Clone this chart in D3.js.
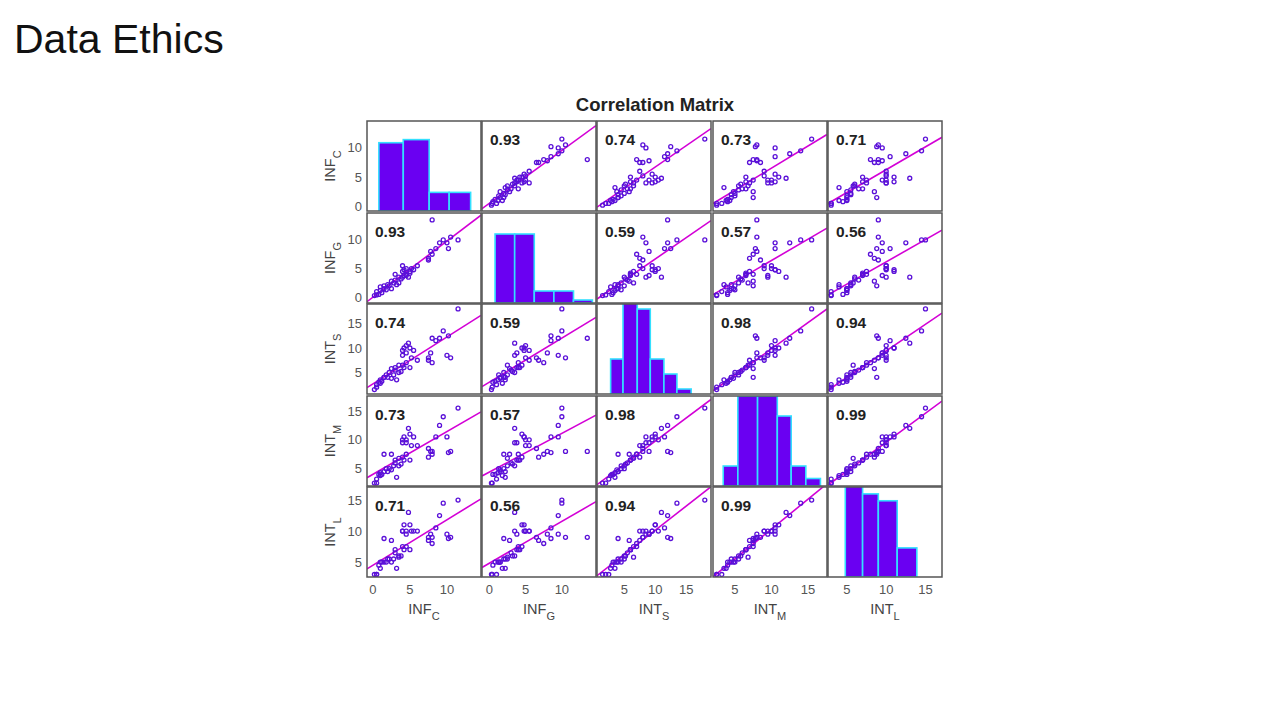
<!DOCTYPE html>
<html><head><meta charset="utf-8">
<script src="https://cdn.jsdelivr.net/npm/d3@7"></script>
<style>body{margin:0;background:#fff}text{font-family:"Liberation Sans",Arial,sans-serif}</style>
</head><body><svg id="c" width="1280" height="720"></svg>
<script>
const varNames = [["INF","C"],["INF","G"],["INT","S"],["INT","M"],["INT","L"]];
const domains = [[-0.8,14.6],[-1.0,14.7],[0.6,19.0],[2.0,17.6],[2.6,17.1]];
const ticks = [[0,5,10],[0,5,10],[5,10,15],[5,10,15],[5,10,15]];
const corrLabels = [
 [null,"0.93","0.74","0.73","0.71"],
 ["0.93",null,"0.59","0.57","0.56"],
 ["0.74","0.59",null,"0.98","0.94"],
 ["0.73","0.57","0.98",null,"0.99"],
 ["0.71","0.56","0.94","0.99",null]];
// observations: INF_C, INF_G, INT_S, INT_M, INT_L
const obs = [
[0.2,0.3,1.5,2.5,3.0],[0.5,0.4,2.0,2.5,3.0],[0.5,1.0,2.5,3.2,3.0],[0.8,0.5,3.0,4.0,4.5],
[1.0,1.2,3.5,4.3,5.0],[1.2,0.8,3.2,4.0,5.0],[1.5,1.5,4.0,4.5,5.0],[1.0,1.8,2.8,3.8,4.0],
[1.8,1.3,4.5,5.0,5.0],[2.0,2.2,4.0,4.5,5.5],[2.2,2.0,5.0,5.0,5.5],[2.5,1.5,3.8,4.8,5.0],
[2.8,2.5,4.5,5.5,5.5],[3.0,3.0,5.5,6.0,6.5],[3.2,2.2,3.5,3.5,4.0],[3.5,3.5,5.0,5.5,6.0],
[3.0,4.0,6.0,6.5,7.0],[3.8,3.2,5.2,5.8,6.0],[4.0,4.5,6.5,7.0,7.5],[4.2,3.8,6.0,6.5,7.0],
[4.5,4.0,7.0,7.5,7.5],[4.0,5.5,9.5,10.0,10.0],[4.2,4.8,10.0,10.5,11.0],[4.5,5.0,10.5,10.0,10.0],
[4.0,3.5,8.5,9.5,10.0],[4.5,3.8,9.0,9.5,9.5],[5.0,4.5,10.0,11.0,11.0],[4.8,3.5,11.0,12.0,13.0],
[5.2,5.0,8.0,9.0,10.0],[5.5,4.8,9.5,10.5,10.0],[6.0,5.5,7.5,9.0,10.0],[5.0,4.2,6.0,6.5,7.0],
[7.5,6.5,8.0,8.5,9.0],[7.5,6.8,7.5,7.0,8.5],[7.8,8.0,9.0,8.0,9.5],[8.0,7.5,7.0,7.5,8.0],
[8.5,8.5,11.5,10.5,10.5],[9.0,9.5,12.0,12.5,12.5],[9.5,10.0,13.5,14.0,14.5],[10.0,9.5,8.5,10.5,9.5],
[10.5,10.5,8.0,8.0,9.0],[10.2,8.5,12.5,7.8,8.8],[11.5,10.0,18.0,15.5,15.0],[8.0,13.5,12.0,8.0,9.0],
[2.5,2.8,5.8,7.5,8.5],[1.5,2.0,4.0,7.5,8.8],[3.5,2.5,6.5,6.8,5.8]];
// histograms: bin edges and counts
const histEdges = [[0.8,4.1,7.6,10.3,13.2],[0.8,3.5,6.2,8.9,11.6,14.2],[2.8,4.8,7.1,9.2,11.4,13.5,15.8],[3.4,5.4,8.1,10.8,12.7,14.7,16.7],[4.8,7.0,9.0,11.4,13.9]];
const histCounts = [[11,11.5,3,3],[11.5,11.5,2,2,0.5],[7,19,17,7,4,1],[4,18,18,14,4,1.5],[18,15.7,14.4,5.5]];
const histMax = [14.5,15,18,18,17];

const svg = d3.select("#c");
svg.append("text").attr("x",14).attr("y",53).attr("font-size",41).attr("fill","#111").text("Data Ethics");
svg.append("text").attr("x",655).attr("y",111).attr("text-anchor","middle").attr("font-size",18.5).attr("font-weight","bold").attr("fill","#222").text("Correlation Matrix");

const colX = [367,482,597,713,828], W = 114;
const rowY = [121,213,304,396,487], H = 90;
const xs = domains.map((d,i)=>d3.scaleLinear().domain(d).range([colX[i],colX[i]+W]));
const ys = domains.map((d,i)=>d3.scaleLinear().domain(d).range([rowY[i]+H,rowY[i]]));
const defs = svg.append("defs");

function label(g, v){
  g.append("tspan").text(varNames[v][0]);
  g.append("tspan").attr("baseline-shift","sub").attr("font-size",11).text(varNames[v][1]);
}

for(let r=0;r<5;r++) for(let c=0;c<5;c++){
  const id="clip"+r+"_"+c;
  defs.append("clipPath").attr("id",id).append("rect").attr("x",colX[c]).attr("y",rowY[r]).attr("width",W).attr("height",H);
  const g = svg.append("g");
  const inner = g.append("g").attr("clip-path",`url(#${id})`);
  if(r===c){
    const hy = d3.scaleLinear().domain([0,histMax[r]]).range([rowY[r]+H,rowY[r]]);
    const e = histEdges[r];
    inner.selectAll("rect.b").data(histCounts[r]).join("rect")
      .attr("x",(d,i)=>xs[c](e[i])).attr("width",(d,i)=>xs[c](e[i+1])-xs[c](e[i]))
      .attr("y",d=>hy(d)).attr("height",d=>hy(0)-hy(d))
      .attr("fill","#6a00f2").attr("stroke","#33e0ff").attr("stroke-width",1.6);
  } else {
    const xv = obs.map(o=>o[c]), yv = obs.map(o=>o[r]);
    const mx=d3.mean(xv), my=d3.mean(yv);
    const b = d3.sum(xv.map((x,i)=>(x-mx)*(yv[i]-my)))/d3.sum(xv.map(x=>(x-mx)**2));
    const a = my-b*mx;
    const d = domains[c];
    inner.append("line").attr("x1",xs[c](d[0])).attr("x2",xs[c](d[1]))
      .attr("y1",ys[r](a+b*d[0])).attr("y2",ys[r](a+b*d[1]))
      .attr("stroke","#d300d6").attr("stroke-width",1.6);
    inner.selectAll("circle").data(obs).join("circle")
      .attr("cx",o=>xs[c](o[c])).attr("cy",o=>ys[r](o[r])).attr("r",2)
      .attr("fill","none").attr("stroke","#5a10d8").attr("stroke-width",1.3);
    g.append("text").attr("x",colX[c]+8).attr("y",rowY[r]+24).attr("font-size",15.5).attr("font-weight","bold").attr("fill","#222").text(corrLabels[r][c]);
  }
  g.append("rect").attr("x",colX[c]).attr("y",rowY[r]).attr("width",W).attr("height",H)
    .attr("fill","none").attr("stroke","#555").attr("stroke-width",1.5);
}
for(let r=0;r<5;r++){
  ticks[r].forEach(t=>{
    svg.append("text").attr("x",colX[0]-5).attr("y",ys[r](t)+4.5).attr("text-anchor","end").attr("font-size",13).attr("fill","#555").text(t);
  });
  const cy = rowY[r]+H/2;
  const t = svg.append("text").attr("transform",`translate(${colX[0]-32},${cy}) rotate(-90)`).attr("text-anchor","middle").attr("font-size",14.5).attr("fill","#444");
  label(t,r);
}
const by = rowY[4]+H;
for(let c=0;c<5;c++){
  ticks[c].forEach(t=>{
    svg.append("text").attr("x",xs[c](t)).attr("y",by+17).attr("text-anchor","middle").attr("font-size",13).attr("fill","#555").text(t);
  });
  const t = svg.append("text").attr("x",colX[c]+W/2).attr("y",by+37).attr("text-anchor","middle").attr("font-size",14.5).attr("fill","#444");
  label(t,c);
}
</script></body></html>
